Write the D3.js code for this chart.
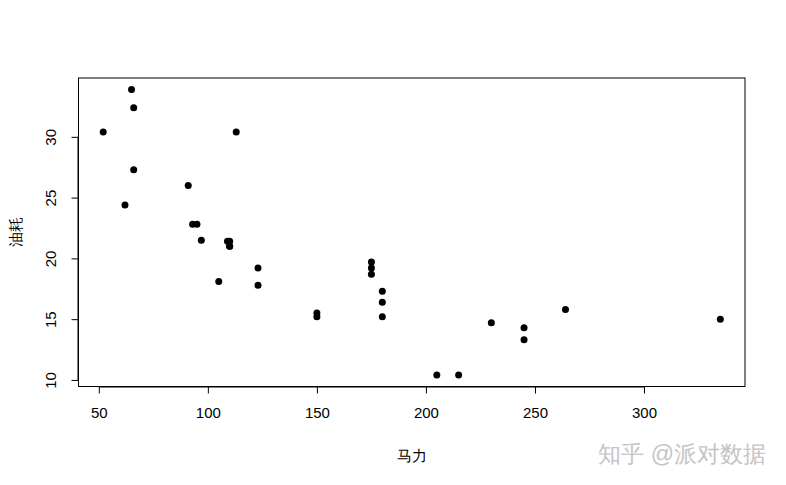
<!DOCTYPE html>
<html><head><meta charset="utf-8">
<script src="https://cdn.jsdelivr.net/npm/d3@7"></script>
<style>body{margin:0;background:#fff}svg{display:block}text{font-family:"Liberation Sans",Arial,sans-serif}</style>
</head><body>
<script>
const hp  = [110,110,93,110,175,105,245,62,95,123,123,180,180,180,205,215,230,66,52,65,97,150,150,245,175,66,91,113,264,175,335,109];
const mpg = [21.0,21.0,22.8,21.4,18.7,18.1,14.3,24.4,22.8,19.2,17.8,16.4,17.3,15.2,10.4,10.4,14.7,32.4,30.4,33.9,21.5,15.5,15.2,13.3,19.2,27.3,26.0,30.4,15.8,19.7,15.0,21.4];
const xTicks = [50,100,150,200,250,300];
const yTicks = [10,15,20,25,30];
const xTitle = "马力", yTitle = "油耗", watermark = "知乎 @派对数据";

const W=786,H=485, L=78.5, R=745, T=78, B=386.5;
const svg=d3.select("body").append("svg").attr("width",W).attr("height",H);
const ext=(a)=>{const [mn,mx]=d3.extent(a),p=(mx-mn)*0.04;return [mn-p,mx+p];};
const x=d3.scaleLinear().domain(ext(hp)).range([L,R]);
const y=d3.scaleLinear().domain(ext(mpg)).range([B,T]);

svg.append("rect").attr("x",L).attr("y",T).attr("width",R-L).attr("height",B-T).attr("fill","none").attr("stroke","#000").attr("stroke-width",1);

const xa=svg.append("g").attr("transform",`translate(0,${B})`).call(d3.axisBottom(x).tickValues(xTicks).tickSize(7).tickPadding(14).tickFormat(d3.format("d")));
xa.select(".domain").attr("d",`M${x(50)},0.5H${x(300)}`);
xa.selectAll("text").attr("font-size",15).attr("fill","#000").attr("font-family","Liberation Sans, Arial");
const ya=svg.append("g").attr("transform",`translate(${L},0)`).call(d3.axisLeft(y).tickValues(yTicks).tickSize(7).tickFormat(d3.format("d")));
ya.select(".domain").attr("d",`M-0.5,${y(10)}V${y(30)}`);
ya.selectAll(".tick text").attr("transform","rotate(-90)").attr("x",0).attr("y",-23).attr("dy","0").attr("text-anchor","middle").attr("font-size",15).attr("fill","#000").attr("font-family","Liberation Sans, Arial");

svg.append("g").selectAll("circle").data(hp).join("circle")
 .attr("cx",(d)=>x(d)).attr("cy",(d,i)=>y(mpg[i])).attr("r",3.5).attr("fill","#000");

svg.append("text").attr("x",(L+R)/2).attr("y",461).attr("text-anchor","middle").attr("font-size",15).attr("font-family","Noto Sans CJK SC").text(xTitle);
svg.append("text").attr("transform",`translate(21,${(T+B)/2}) rotate(-90)`).attr("text-anchor","middle").attr("font-size",15).attr("font-family","Noto Sans CJK SC").text(yTitle);
svg.append("text").attr("x",766).attr("y",462).attr("text-anchor","end").attr("font-size",23).attr("fill","#c4c4c4").attr("font-family","Noto Sans CJK SC").text(watermark);
</script>
</body></html>
